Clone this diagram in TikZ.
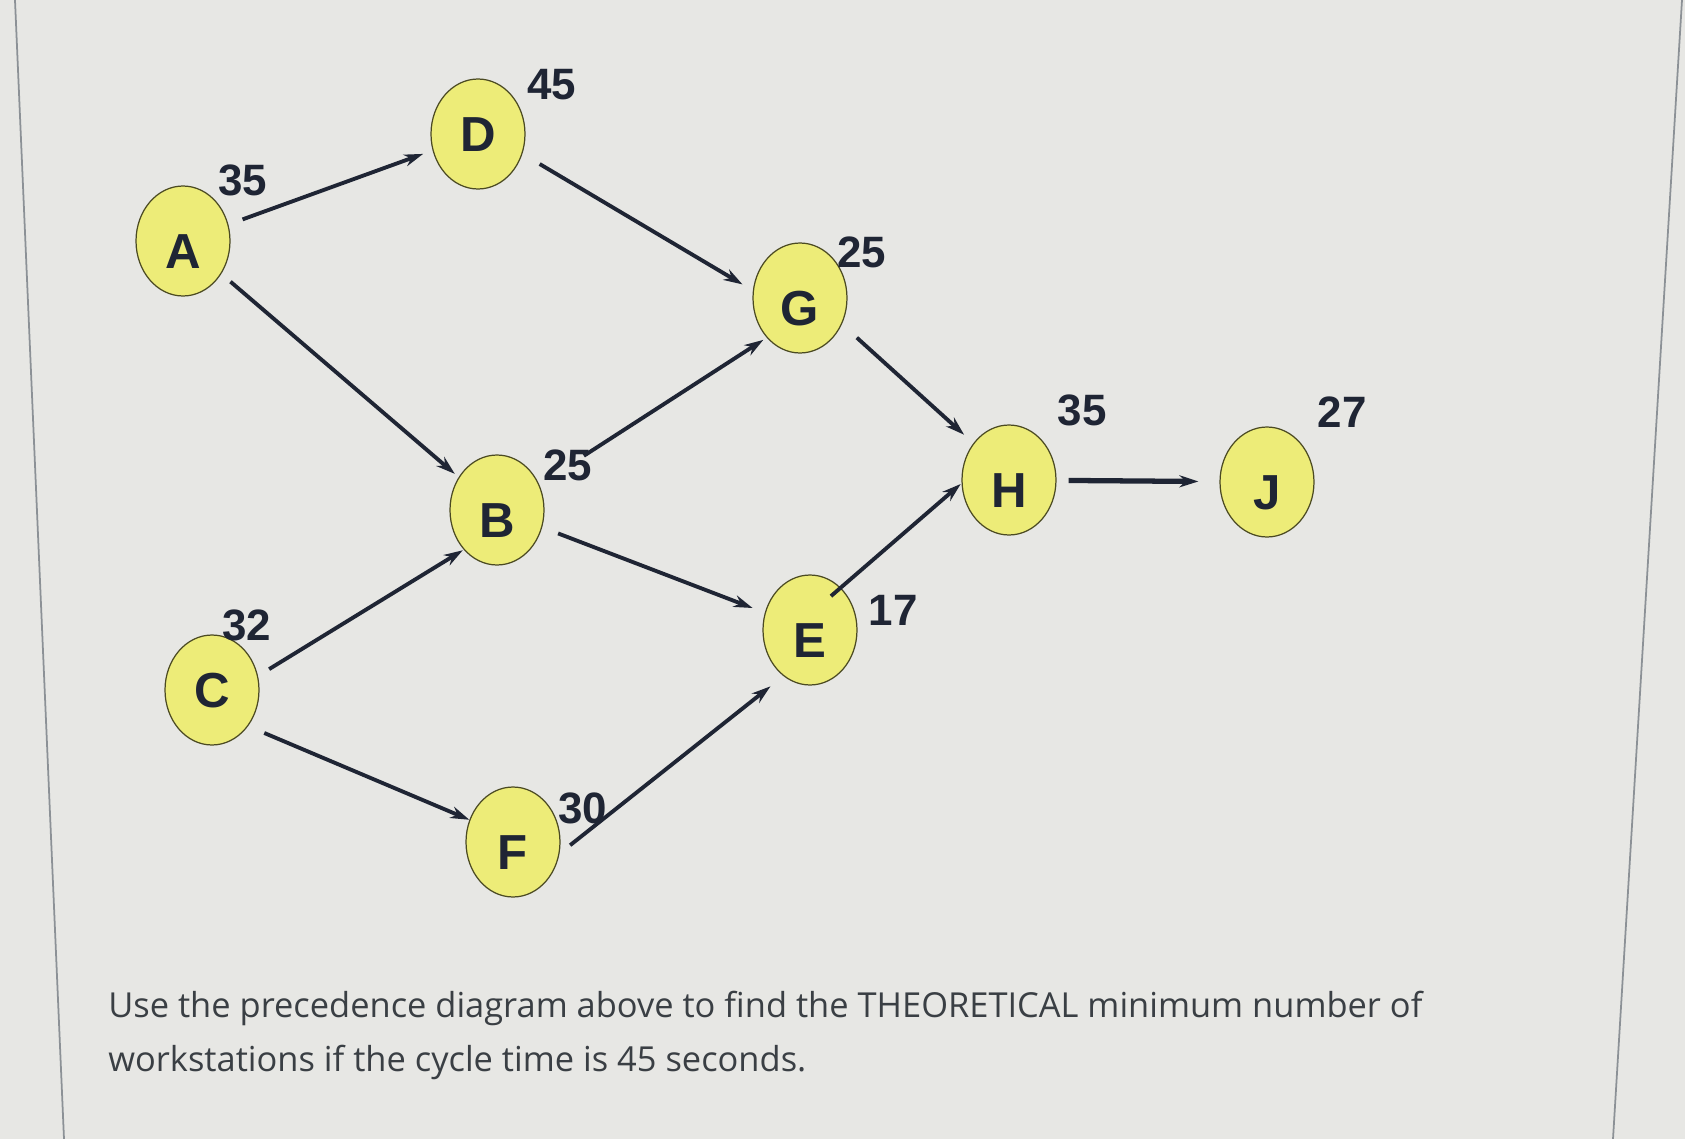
\documentclass[tikz,border=0pt]{standalone}
\usepackage{fontspec}
\setmainfont{Liberation Sans}
\newfontfamily\qfont{Open Sans}
\usepackage{tikz}
\usetikzlibrary{shapes.geometric}
\usetikzlibrary{arrows.meta}
\definecolor{bgpaper}{HTML}{E7E7E4}
\definecolor{nodefill}{HTML}{EDEC78}
\definecolor{nodeline}{HTML}{4B4A22}
\definecolor{ink}{HTML}{1F2534}
\definecolor{qtext}{HTML}{3A3F44}
\definecolor{frameline}{HTML}{8C9196}
\tikzset{
  task/.style={ellipse,draw=nodeline,line width=0.7pt,fill=nodefill,
    minimum width=1.88cm,minimum height=2.2cm,inner sep=0pt,
    text height=31pt,text depth=0pt,
    text=ink,font=\bfseries\fontsize{28}{28}\selectfont},
  tasktime/.style={text=ink,inner sep=0pt,font=\bfseries\fontsize{25}{25}\selectfont},
  prec/.style={draw=ink,line width=2.2pt,-{Stealth[length=0.38cm,width=0.24cm]}}
}

\begin{document}
\begin{tikzpicture}[x=0.02cm,y=-0.02cm]
        \useasboundingbox (0,0) rectangle (1685,1139);
        \fill[bgpaper] (0,0) rectangle (1685,1139);
        \draw[frameline,line width=1pt] (15,0) coordinate (fl1)--(64,1139) coordinate (fl2);
        \draw[frameline,line width=1pt] (1682,0) coordinate (fr1)--(1613,1139) coordinate (fr2);
        % tasks
        \node[task] (A) at (183,241) {A};
        \node[task,text height=20pt] (D) at (478,134) {D};
        \node[task] (G) at (800,298) {G};
        \node[task] (B) at (497,510) {B};
        \node[task,text height=20pt] (C) at (212,690) {C};
        \node[task] (F) at (513,842) {F};
        \node[task] (E) at (810,630) {E};
        \node[task] (H) at (1009,480) {H};
        \node[task] (J) at (1267,482) {J};
        % task times
        \node[tasktime] (tA) at (243,180) {35};
        \node[tasktime] (tD) at (552,85) {45};
        \node[tasktime] (tG) at (862,252) {25};
        \node[tasktime] (tB) at (568,465) {25};
        \node[tasktime] (tC) at (247,625) {32};
        \node[tasktime] (tF) at (583,808) {30};
        \node[tasktime] (tE) at (893,610) {17};
        \node[tasktime] (tH) at (1082,410) {35};
        \node[tasktime] (tJ) at (1342,412) {27};
        % precedence
        \draw[prec,shorten <=0.3cm,shorten >=0.2cm] (A)--(D);
        \draw[prec,shorten <=0.24cm,shorten >=0.1cm] (A)--(B);
        \draw[prec,shorten <=0.4cm,shorten >=0.24cm] (D.-24)--(G.171);
        \draw[prec,shorten <=1.06cm,shorten >=0.08cm] (B.31)--(G.230);
        \draw[prec,shorten <=0.34cm,shorten >=0.26cm] (B)--(E);
        \draw[prec,shorten <=0.26cm,shorten >=0.02cm] (C.17)--(B.230);
        \draw[prec,shorten <=0.35cm] (C.-45)--(F.153);
        \draw[prec,shorten <=0.27cm,shorten >=0.33cm] (F.-14)--(E.240);
        \draw[prec,shorten <=0.4cm,shorten >=0.25cm] (G.-32)--(H.134);
        \draw[prec,shorten <=-0.26cm,shorten >=0.02cm] (E.54)--(H.184);
        \draw[prec,line width=3pt,shorten <=0.24cm,shorten >=0.42cm] (H)--(J);
        % question
        \node[anchor=base west,inner sep=0pt,text=qtext,font=\qfont\fontsize{19.6}{23}\selectfont] (q1) at (108,1017)
          {Use the precedence diagram above to find the THEORETICAL minimum number of};
        \node[anchor=base west,inner sep=0pt,text=qtext,font=\qfont\fontsize{19.6}{23}\selectfont] (q2) at (108,1071)
          {workstations if the cycle time is 45 seconds.};
\end{tikzpicture}
\end{document}
